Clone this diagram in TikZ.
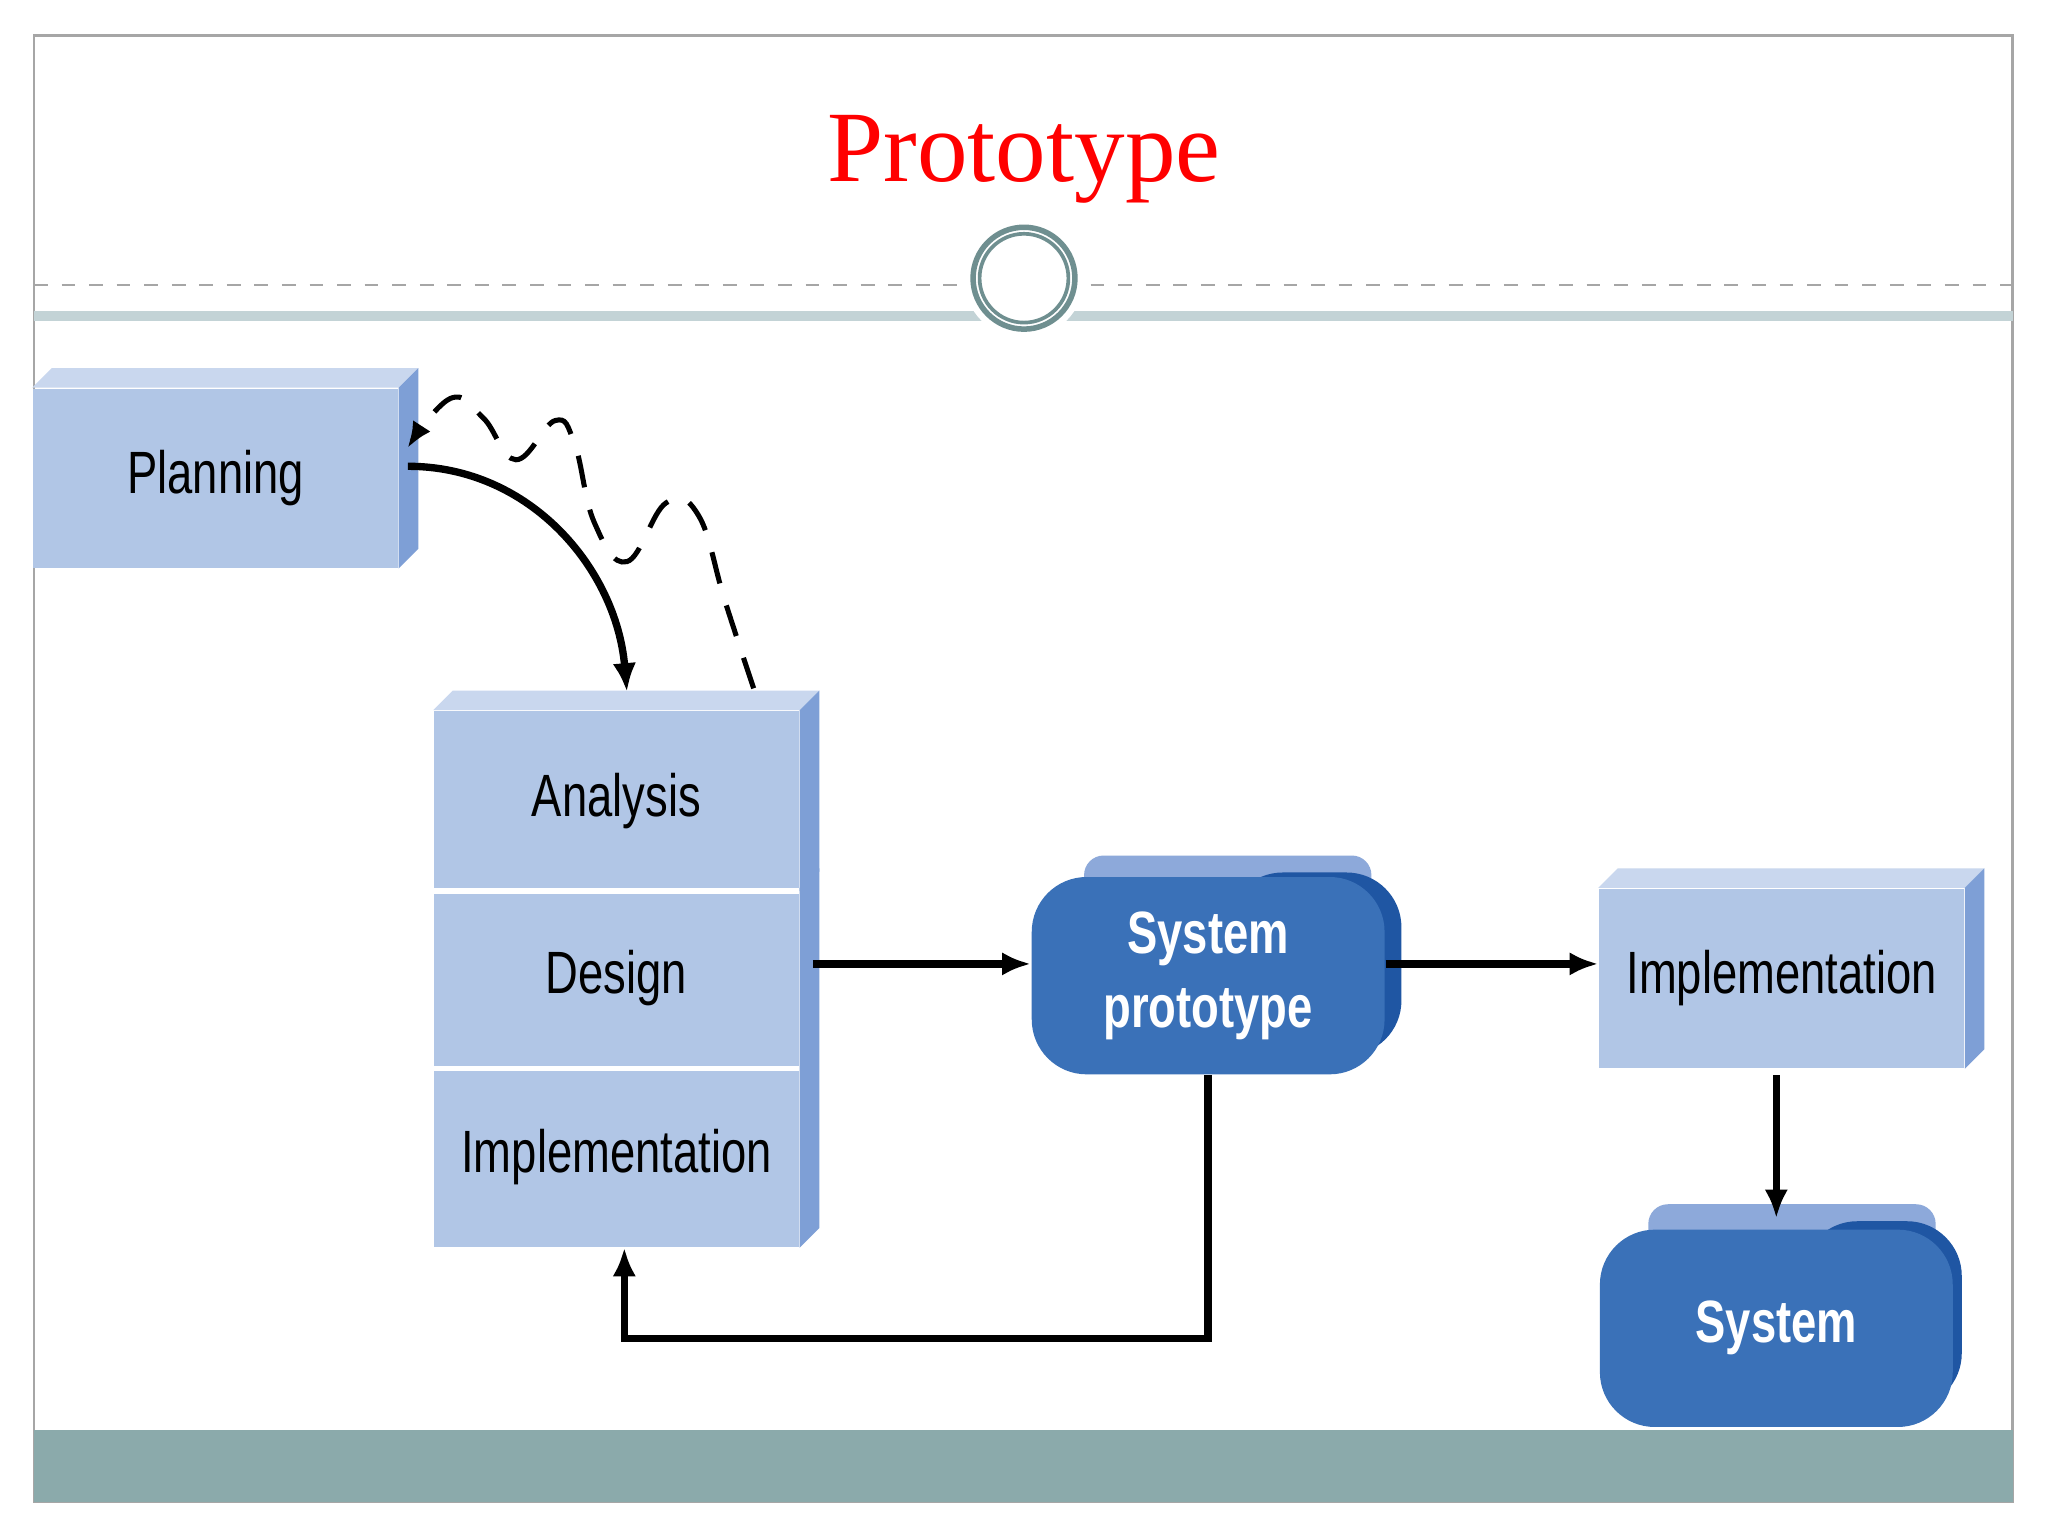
\documentclass[tikz,border=0pt]{standalone}
\usepackage{fontspec}
\setmainfont{Liberation Sans}
\newfontfamily\titlefont{Liberation Serif}
\usetikzlibrary{arrows.meta,calc}
\definecolor{boxface}{HTML}{B1C6E6}
\definecolor{boxtop}{HTML}{C9D7EE}
\definecolor{boxside}{HTML}{7E9FD6}
\definecolor{protoface}{HTML}{3A71B8}
\definecolor{protoside}{HTML}{1F56A3}
\definecolor{prototop}{HTML}{8DA9DA}
\definecolor{footbar}{HTML}{8BAAAB}
\definecolor{rulebar}{HTML}{C3D3D6}
\definecolor{ringcol}{HTML}{6F8F90}
\tikzset{
  block/.style={rectangle, fill=boxface, minimum width=2.79cm, minimum height=1.37cm, inner sep=0pt, font=\fontsize{13}{15}\selectfont},
  proto/.style={rectangle, rounded corners=0.42cm, fill=protoface, text=white, minimum width=2.7cm, minimum height=1.51cm, inner sep=0pt, align=center, font=\fontsize{13}{16}\selectfont\bfseries},
  arrow/.style={draw, -{Latex[length=0.22cm,width=0.18cm]}, line width=1.6pt},
  line/.style={draw, line width=1.6pt},
}
\newcommand{\narrow}[1]{\scalebox{0.76}[1]{#1}}
\newcommand{\slab}[1]{%
  \fill[boxtop] (#1.north west) -- ($(#1.north west)+(15,-15)$) -- ($(#1.north east)+(15,-15)$) -- (#1.north east) -- cycle;
  \fill[boxside] (#1.north east) -- ($(#1.north east)+(15,-15)$) -- ($(#1.south east)+(15,-15)$) -- (#1.south east) -- cycle;}
\begin{document}
\begin{tikzpicture}[x=0.01cm, y=-0.01cm]
  \useasboundingbox (0,0) rectangle (1568,1176);
  % slide frame
  \fill[white] (0,0) rectangle (1568,1176);
  \draw[gray!70, line width=0.6pt] (26,27) rectangle (1541,1150);
  \fill[rulebar] (26,238) rectangle (1541,246);
  \draw[gray!70, dashed, line width=0.5pt] (26,218) -- (735,218);
  \draw[gray!70, dashed, line width=0.5pt] (835,218) -- (1541,218);
  \fill[white] (784,213) circle (46);
  \draw[ringcol, line width=1.2pt] (784,213) circle (39);
  \draw[ringcol, line width=0.8pt] (784,213) circle (34);
  \fill[footbar] (26,1095) rectangle (1541,1150);
  \node[text=red, font=\titlefont\fontsize{22}{26}\selectfont] (title) at (784,122) {Prototype};
  % blocks
  \node[block] (planning) at (165,366) {\narrow{Planning}};
  \slab{planning}
  \node[block] (analysis) at (472,613) {\narrow{Analysis}};
  \node[block] (design) at (472,749) {\narrow{Design}};
  \node[block] (impl) at (472,886) {\narrow{Implementation}};
  \draw[white, line width=1.2pt] (analysis.south west) -- (analysis.south east);
  \draw[white, line width=1.2pt] (design.south west) -- (design.south east);
  \slab{analysis}
  \fill[boxside] (design.north east) -- ($(design.north east)+(15,-15)$) -- ($(impl.south east)+(15,-15)$) -- (impl.south east) -- cycle;
  \node[block] (implright) at (1364,749) {\narrow{Implementation}};
  \slab{implright}
  % rounded blocks
  \fill[prototop, rounded corners=0.15cm] (830,655) rectangle (1050,700);
  \fill[protoside, rounded corners=0.42cm] (940,668) rectangle (1073,808);
  \node[proto] (prototype) at (925,747) {\narrow{System}\\\narrow{prototype}};
  \fill[prototop, rounded corners=0.15cm] (1262,922) rectangle (1482,965);
  \fill[protoside, rounded corners=0.42cm] (1380,935) rectangle (1502,1078);
  \node[proto] (system) at (1360,1017) {\narrow{System}};
  % connectors
  \coordinate (d) at ($(design.east)+(10,-11)$);
  \path[arrow] (d) -- (prototype.west |- d);
  \path[arrow] (prototype.east |- d) -- (implright.west |- d);
  \path[arrow] ($(implright.south)+(-4,5)$) -- ($(system.north)+(0,-8)$);
  \coordinate (loop) at (prototype.south |- 0,1025);
  \path[arrow] (prototype.south) -- (loop) -| ($(impl.south)+(6,0)$);
  \path[arrow] ($(planning.east)+(7,-9)$) to[out=0, in=95] ($(analysis.north)+(8,-14)$);
  \draw[line width=1.1pt, dash pattern=on 7pt off 5pt, -{Latex[length=0.2cm,width=0.16cm]}] plot[smooth, tension=0.7] coordinates {(577,527) (555,460) (535,395) (510,385) (480,430) (455,400) (440,340) (425,322) (395,352) (370,320) (345,305) (312,343)};
\end{tikzpicture}
\end{document}
